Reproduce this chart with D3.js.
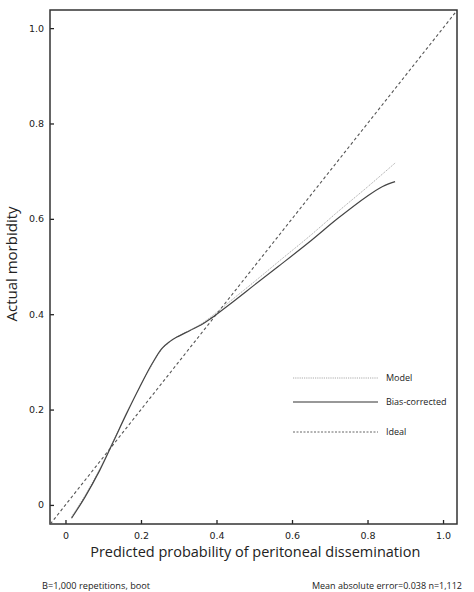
<html>
<head>
<meta charset="UTF-8">
<script src="https://d3js.org/d3.v7.min.js"></script>
<style>
  body { margin: 0; background: #fff; }
  text { font-family: "Open Sans", sans-serif; fill: #222; }
</style>
</head>
<body>
<svg id="chart" width="474" height="592"></svg>
<script>
// calibration data
const biasX = [0.016, 0.052, 0.091, 0.127, 0.162, 0.197, 0.23, 0.255, 0.275, 0.295, 0.33, 0.36, 0.383, 0.45, 0.5, 0.57, 0.65, 0.72, 0.8, 0.84, 0.873];
const biasY = [-0.028, 0.017, 0.073, 0.133, 0.192, 0.248, 0.297, 0.328, 0.342, 0.352, 0.366, 0.378, 0.39, 0.43, 0.461, 0.504, 0.554, 0.6, 0.648, 0.668, 0.678];
const modelX = [0.016, 0.052, 0.091, 0.127, 0.162, 0.197, 0.23, 0.255, 0.275, 0.295, 0.33, 0.36, 0.383, 0.45, 0.5, 0.57, 0.65, 0.72, 0.8, 0.873];
const modelY = [-0.025, 0.02, 0.076, 0.135, 0.193, 0.247, 0.295, 0.326, 0.341, 0.352, 0.367, 0.38, 0.393, 0.436, 0.468, 0.514, 0.566, 0.614, 0.667, 0.717];
const idealX = [-0.04, 1.036];
const xTicks = [0, 0.2, 0.4, 0.6, 0.8, 1.0];
const yTicks = [0, 0.2, 0.4, 0.6, 0.8, 1.0];
const legendLabels = ['Model', 'Bias-corrected', 'Ideal'];

const svg = d3.select('#chart');
const margin = {top: 10, right: 17, bottom: 68, left: 50};
const width = 474 - margin.left - margin.right;
const height = 592 - margin.top - margin.bottom;

const x = d3.scaleLinear().domain([-0.041, 1.037]).range([0, width]);
const y = d3.scaleLinear().domain([-0.04, 1.038]).range([height, 0]);

const g = svg.append('g').attr('transform', `translate(${margin.left},${margin.top})`);

const fmt = d => d === 0 ? '0' : d3.format('.1f')(d);

// axes with inward ticks
const xAxis = g.append('g').attr('transform', `translate(0,${height})`)
  .call(d3.axisBottom(x).tickValues(xTicks).tickSize(-4).tickPadding(8).tickFormat(fmt));
const yAxis = g.append('g')
  .call(d3.axisLeft(y).tickValues(yTicks).tickSize(-4).tickPadding(6).tickFormat(fmt));
[xAxis, yAxis].forEach(a => {
  a.select('.domain').remove();
  a.selectAll('line').attr('stroke', '#222').attr('stroke-width', 1.3);
  a.selectAll('text').style('font-family', '"DejaVu Sans", sans-serif').style('font-size', '9.5px').attr('fill', '#333');
});

// frame
g.append('rect').attr('width', width).attr('height', height)
  .attr('fill', 'none').attr('stroke', '#333').attr('stroke-width', 1.5);

const line = d3.line().x(d => x(d[0])).y(d => y(d[1])).curve(d3.curveCatmullRom.alpha(0.5));

g.append('path').datum(idealX.map(v => [v, v]))
  .attr('d', line).attr('fill', 'none').attr('stroke', '#555')
  .attr('stroke-width', 1.1).attr('stroke-dasharray', '3,2.5');

g.append('path').datum(modelX.map((v, i) => [v, modelY[i]]))
  .attr('d', line).attr('fill', 'none').attr('stroke', '#aaa')
  .attr('stroke-width', 1).attr('stroke-dasharray', '1.2,1');

g.append('path').datum(biasX.map((v, i) => [v, biasY[i]]))
  .attr('d', line).attr('fill', 'none').attr('stroke', '#444')
  .attr('stroke-width', 1.2);

// legend
const legendStyles = [
  {stroke: '#aaa', dash: '1.2,1', w: 1},
  {stroke: '#333', dash: null, w: 1.2},
  {stroke: '#666', dash: '2,1.5', w: 1}
];
const legendY = [378, 402, 432];
legendLabels.forEach((lab, i) => {
  svg.append('line').attr('x1', 293).attr('x2', 378)
    .attr('y1', legendY[i]).attr('y2', legendY[i])
    .attr('stroke', legendStyles[i].stroke).attr('stroke-width', legendStyles[i].w)
    .attr('stroke-dasharray', legendStyles[i].dash);
  svg.append('text').attr('x', 386).attr('y', legendY[i]).attr('dy', '0.35em')
    .style('font-size', '9px').text(lab);
});

// titles
svg.append('text').attr('x', margin.left + x(0.5) + 1).attr('y', 557)
  .attr('text-anchor', 'middle').style('font-size', '14.5px')
  .text('Predicted probability of peritoneal dissemination');
svg.append('text').attr('transform', 'translate(17,264) rotate(-90)')
  .attr('text-anchor', 'middle').style('font-size', '15px')
  .text('Actual morbidity');

svg.append('text').attr('x', 42).attr('y', 589).style('font-size', '9.2px')
  .text('B=1,000 repetitions, boot');
svg.append('text').attr('x', 462).attr('y', 589).attr('text-anchor', 'end')
  .style('font-size', '9px').text('Mean absolute error=0.038 n=1,112');
</script>
</body>
</html>
